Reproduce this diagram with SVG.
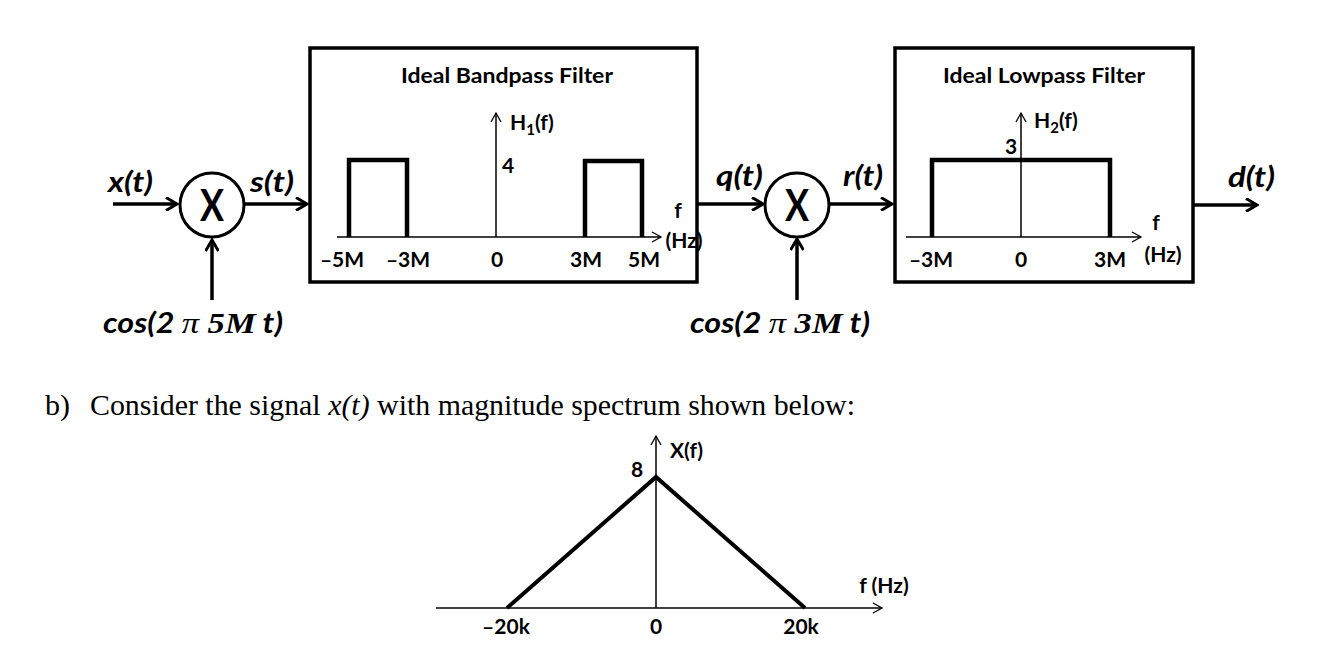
<svg xmlns="http://www.w3.org/2000/svg" width="1324" height="648" viewBox="0 0 1324 648">
<defs>
<marker id="ah" markerWidth="14" markerHeight="14" viewBox="-12 -7 14 14" refX="0" refY="0" orient="auto" markerUnits="userSpaceOnUse">
<polyline points="-11,-6.5 0,0 -11,6.5" fill="none" stroke="#000" stroke-width="3"/>
</marker>
<marker id="ahs" markerWidth="12" markerHeight="12" viewBox="-10 -6 12 12" refX="0" refY="0" orient="auto" markerUnits="userSpaceOnUse">
<polyline points="-9,-5 0,0 -9,5" fill="none" stroke="#000" stroke-width="1.3"/>
</marker>
</defs>
<style>
.box{fill:#fff;stroke:#000;stroke-width:3.5}
.sig{stroke:#000;stroke-width:3.5;fill:none}
.ax{stroke:#000;stroke-width:1.5;fill:none}
.th{stroke:#000;stroke-width:4.5;fill:none}
.t{font-family:Lato,"Open Sans","Liberation Sans",sans-serif;font-weight:bold;fill:#000;font-size:21px}
.lbl{font-family:Lato,"Open Sans","Liberation Sans",sans-serif;font-weight:bold;font-style:italic;font-size:28px;fill:#000}
.tm{font-family:"Liberation Serif",serif;fill:#000}
.mx{font-family:Lato,"Open Sans","Liberation Sans",sans-serif;font-weight:bold;font-size:44px;fill:#000}
</style>
<rect width="1324" height="648" fill="#fff"/>

<g id="connectors">
<line class="sig" x1="113" y1="204" x2="177" y2="204" marker-end="url(#ah)"/>
<line class="sig" x1="245" y1="204" x2="307" y2="204" marker-end="url(#ah)"/>
<line class="sig" x1="212" y1="300" x2="212" y2="240" marker-end="url(#ah)"/>
<line class="sig" x1="697" y1="204" x2="763" y2="204" marker-end="url(#ah)"/>
<line class="sig" x1="830" y1="204" x2="892" y2="204" marker-end="url(#ah)"/>
<line class="sig" x1="797" y1="300" x2="797" y2="239" marker-end="url(#ah)"/>
<line class="sig" x1="1193" y1="205" x2="1257" y2="205" marker-end="url(#ah)"/>
<text class="lbl" x="108" y="192" textLength="45" lengthAdjust="spacingAndGlyphs">x(t)</text>
<text class="lbl" x="250" y="192" textLength="44" lengthAdjust="spacingAndGlyphs">s(t)</text>
<text class="lbl" x="716" y="186" textLength="47" lengthAdjust="spacingAndGlyphs">q(t)</text>
<text class="lbl" x="843" y="186" textLength="40" lengthAdjust="spacingAndGlyphs">r(t)</text>
<text class="lbl" x="1228" y="187" textLength="47" lengthAdjust="spacingAndGlyphs">d(t)</text>
</g>

<g id="mult1">
<circle cx="212" cy="205" r="32" fill="#fff" stroke="#000" stroke-width="3"/>
<text class="mx" x="200" y="221" textLength="24" lengthAdjust="spacingAndGlyphs">X</text>
</g>
<g id="cos1">
<text x="103" y="333" textLength="180" lengthAdjust="spacingAndGlyphs"><tspan class="lbl">cos(2 </tspan><tspan class="tm" font-style="italic" font-size="30">π</tspan><tspan class="tm" font-style="italic" font-size="30" font-weight="bold"> 5M</tspan><tspan class="lbl"> t)</tspan></text>
</g>

<g id="mult2">
<circle cx="797" cy="205" r="32" fill="#fff" stroke="#000" stroke-width="3"/>
<text class="mx" x="785" y="221" textLength="24" lengthAdjust="spacingAndGlyphs">X</text>
</g>
<g id="cos2">
<text x="690" y="333" textLength="180" lengthAdjust="spacingAndGlyphs"><tspan class="lbl">cos(2 </tspan><tspan class="tm" font-style="italic" font-size="30">π</tspan><tspan class="tm" font-style="italic" font-size="30" font-weight="bold"> 3M</tspan><tspan class="lbl"> t)</tspan></text>
</g>

<g id="bandpass">
<rect class="box" x="310" y="48" width="387" height="234"/>
<text class="t" x="507" y="83" text-anchor="middle" textLength="212" lengthAdjust="spacingAndGlyphs">Ideal Bandpass Filter</text>
<line class="ax" x1="337" y1="237" x2="661" y2="237" marker-end="url(#ahs)"/>
<line class="ax" x1="496" y1="237" x2="496" y2="113" marker-end="url(#ahs)"/>
<polyline class="th" points="349,237 349,160 407,160 407,237"/>
<polyline class="th" points="585,237 585,161 642,161 642,237"/>
<text class="t" x="510" y="130">H<tspan font-size="15" dy="5">1</tspan><tspan dy="-5">(f)</tspan></text>
<text class="t" x="502" y="173">4</text>
<text class="t" x="342" y="267" text-anchor="middle">–5M</text>
<text class="t" x="408" y="267" text-anchor="middle">–3M</text>
<text class="t" x="497" y="267" text-anchor="middle">0</text>
<text class="t" x="586" y="267" text-anchor="middle">3M</text>
<text class="t" x="644" y="267" text-anchor="middle">5M</text>
<text class="t" x="678" y="218" text-anchor="middle">f</text>
<text class="t" x="684" y="248" text-anchor="middle">(Hz)</text>
</g>

<g id="lowpass">
<rect class="box" x="895" y="48" width="298" height="234"/>
<text class="t" x="1044" y="83" text-anchor="middle" textLength="202" lengthAdjust="spacingAndGlyphs">Ideal Lowpass Filter</text>
<line class="ax" x1="906" y1="237" x2="1141" y2="237" marker-end="url(#ahs)"/>
<line class="ax" x1="1021" y1="237" x2="1021" y2="113" marker-end="url(#ahs)"/>
<polyline class="th" points="932,237 932,160 1110,160 1110,237"/>
<text class="t" x="1034" y="128">H<tspan font-size="15" dy="5">2</tspan><tspan dy="-5">(f)</tspan></text>
<text class="t" x="1005" y="154">3</text>
<text class="t" x="931" y="267" text-anchor="middle">–3M</text>
<text class="t" x="1021" y="267" text-anchor="middle">0</text>
<text class="t" x="1110" y="267" text-anchor="middle">3M</text>
<text class="t" x="1156" y="230" text-anchor="middle">f</text>
<text class="t" x="1163" y="262" text-anchor="middle">(Hz)</text>
</g>

<g id="question">
<text class="tm" x="45" y="415" font-size="30">b)</text>
<text class="tm" x="90" y="415" font-size="30" textLength="765" lengthAdjust="spacingAndGlyphs">Consider the signal <tspan font-style="italic">x(t)</tspan> with magnitude spectrum shown below:</text>
</g>

<g id="spectrum">
<line class="ax" x1="436" y1="608" x2="882" y2="608" marker-end="url(#ahs)"/>
<line class="ax" x1="656" y1="608" x2="656" y2="436" marker-end="url(#ahs)"/>
<polyline points="507,608 656,477 805,608" fill="none" stroke="#000" stroke-width="4" stroke-linejoin="miter"/>
<text class="t" x="670" y="458">X(f)</text>
<text class="t" x="637" y="477" text-anchor="middle">8</text>
<text class="t" x="884" y="593" text-anchor="middle">f (Hz)</text>
<text class="t" x="506" y="634" text-anchor="middle">–20k</text>
<text class="t" x="656" y="634" text-anchor="middle">0</text>
<text class="t" x="801" y="634" text-anchor="middle">20k</text>
</g>
</svg>
